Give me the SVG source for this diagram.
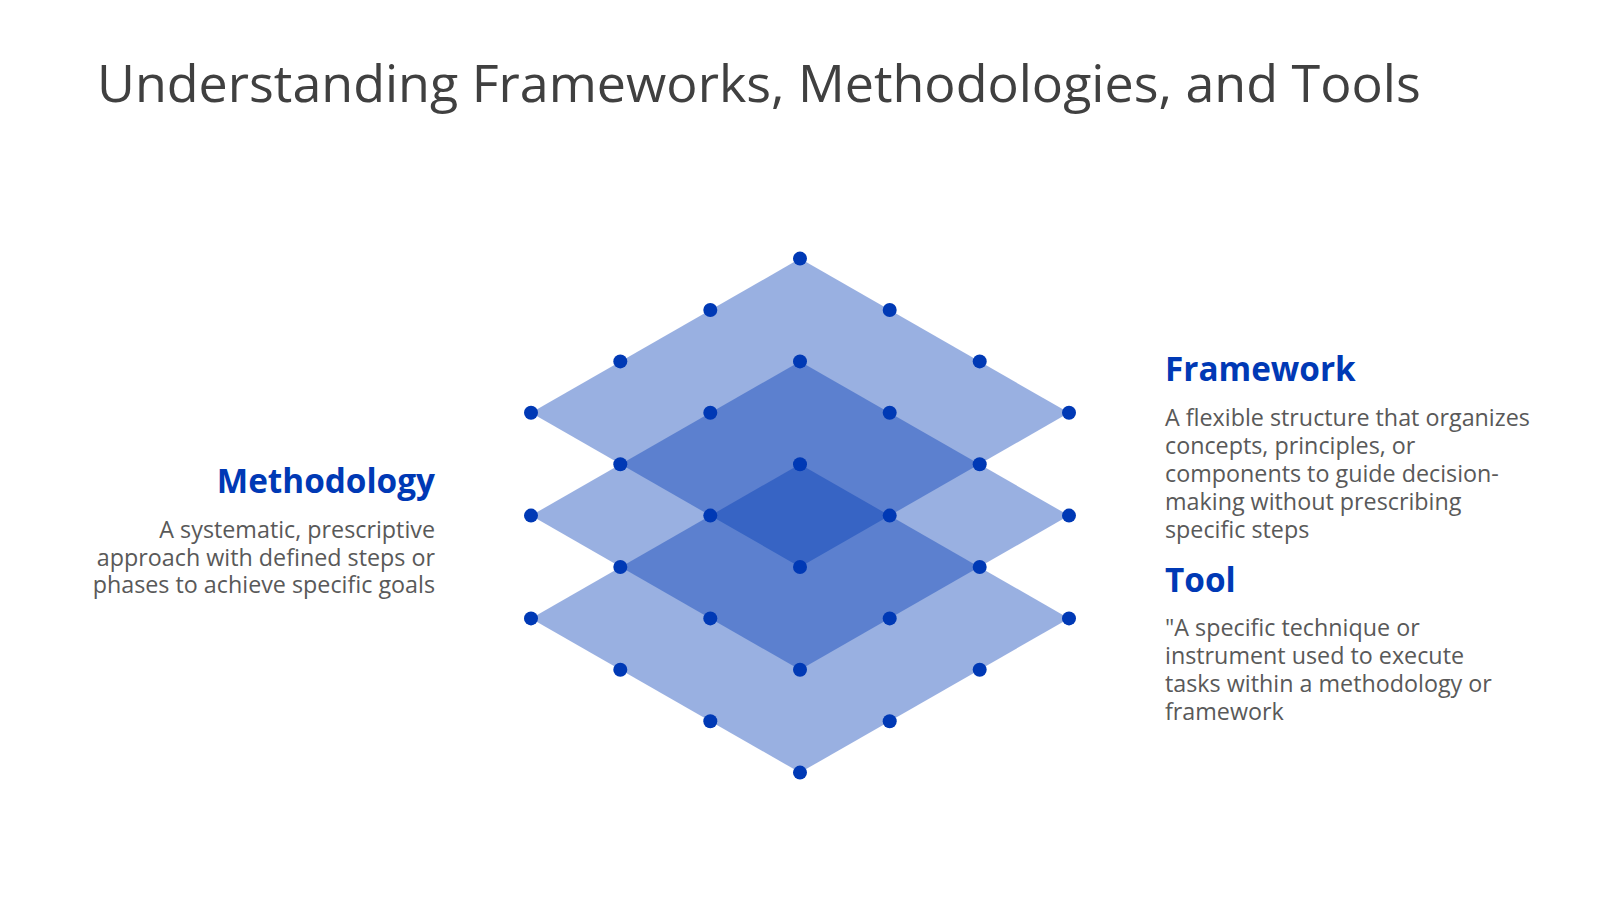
<svg xmlns="http://www.w3.org/2000/svg" width="1600" height="900" viewBox="0 0 1600 900">
<style>
.title{font-family:"Open Sans","Liberation Sans",sans-serif;font-size:52px;fill:#404040}
.head{font-family:"Open Sans","Liberation Sans",sans-serif;font-size:33.3px;font-weight:bold;fill:#0039B5}
.body{font-family:"Open Sans","Liberation Sans",sans-serif;font-size:23.3px;fill:#595959}
.layer{fill:#0039B5;fill-opacity:0.4}
.dot{fill:#0039B5}
</style>
<rect width="1600" height="900" fill="#ffffff"/>
<text class="title" x="97" y="102">Understanding Frameworks, Methodologies, and Tools</text>
<g id="layers">
<polygon id="layer-top" class="layer" points="800,258.6 1069,412.8 800,567 531,412.8"/>
<polygon id="layer-middle" class="layer" points="800,361.4 1069,515.6 800,669.8 531,515.6"/>
<polygon id="layer-bottom" class="layer" points="800,464.2 1069,618.4 800,772.6 531,618.4"/>
</g>
<g id="dots">
<circle class="dot" cx="800" cy="258.6" r="7"/>
<circle class="dot" cx="710.3" cy="310" r="7"/><circle class="dot" cx="889.7" cy="310" r="7"/>
<circle class="dot" cx="620.3" cy="361.4" r="7"/><circle class="dot" cx="800" cy="361.4" r="7"/><circle class="dot" cx="979.7" cy="361.4" r="7"/>
<circle class="dot" cx="531" cy="412.8" r="7"/><circle class="dot" cx="710.3" cy="412.8" r="7"/><circle class="dot" cx="889.7" cy="412.8" r="7"/><circle class="dot" cx="1069" cy="412.8" r="7"/>
<circle class="dot" cx="620.3" cy="464.2" r="7"/><circle class="dot" cx="800" cy="464.2" r="7"/><circle class="dot" cx="979.7" cy="464.2" r="7"/>
<circle class="dot" cx="531" cy="515.6" r="7"/><circle class="dot" cx="710.3" cy="515.6" r="7"/><circle class="dot" cx="889.7" cy="515.6" r="7"/><circle class="dot" cx="1069" cy="515.6" r="7"/>
<circle class="dot" cx="620.3" cy="567" r="7"/><circle class="dot" cx="800" cy="567" r="7"/><circle class="dot" cx="979.7" cy="567" r="7"/>
<circle class="dot" cx="531" cy="618.4" r="7"/><circle class="dot" cx="710.3" cy="618.4" r="7"/><circle class="dot" cx="889.7" cy="618.4" r="7"/><circle class="dot" cx="1069" cy="618.4" r="7"/>
<circle class="dot" cx="620.3" cy="669.8" r="7"/><circle class="dot" cx="800" cy="669.8" r="7"/><circle class="dot" cx="979.7" cy="669.8" r="7"/>
<circle class="dot" cx="710.3" cy="721.2" r="7"/><circle class="dot" cx="889.7" cy="721.2" r="7"/>
<circle class="dot" cx="800" cy="772.6" r="7"/>
</g>
<g id="methodology" text-anchor="end">
<text class="head" x="435" y="493">Methodology</text>
<text class="body" x="435" y="538">A systematic, prescriptive</text>
<text class="body" x="435" y="565.5">approach with defined steps or</text>
<text class="body" x="435" y="593">phases to achieve specific goals</text>
</g>
<g id="framework">
<text class="head" x="1165" y="381">Framework</text>
<text class="body" x="1165" y="425.5">A flexible structure that organizes</text>
<text class="body" x="1165" y="453.5">concepts, principles, or</text>
<text class="body" x="1165" y="481.5">components to guide decision-</text>
<text class="body" x="1165" y="509.5">making without prescribing</text>
<text class="body" x="1165" y="537.5">specific steps</text>
</g>
<g id="tool">
<text class="head" x="1165" y="592">Tool</text>
<text class="body" x="1165" y="636">"A specific technique or</text>
<text class="body" x="1165" y="664">instrument used to execute</text>
<text class="body" x="1165" y="692">tasks within a methodology or</text>
<text class="body" x="1165" y="720">framework</text>
</g>
</svg>
